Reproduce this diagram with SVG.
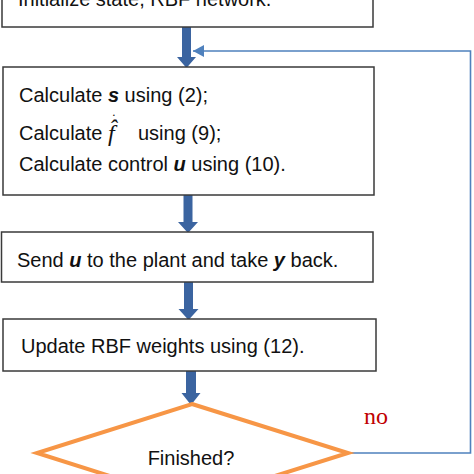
<svg xmlns="http://www.w3.org/2000/svg" width="474" height="474" viewBox="0 0 474 474">
<style>
.box{fill:#fff;stroke:#3a3a3a;stroke-width:1.5}
.t{font-family:"Liberation Sans",Arial,sans-serif;font-size:20px;fill:#111}
.bi{font-weight:bold;font-style:italic}
.thick{fill:#3B64A0}
.fb{fill:none;stroke:#4F81BD;stroke-width:1.6}
</style>
<defs>
<marker id="ah" markerWidth="12" markerHeight="12" refX="11" refY="6" orient="auto" markerUnits="userSpaceOnUse">
<path d="M0,0 L11,6 L0,12 Z" fill="#4F81BD"/>
</marker>
</defs>
<rect width="474" height="474" fill="#fff"/>
<g id="connectors">
<path class="thick" d="M182,27 H191 V57 H196 L186.5,68 L177,57 H182 Z"/>
<path class="thick" d="M183.5,195 H192.5 V222 H198 L188,233 L178,222 H183.5 Z"/>
<path class="thick" d="M184,282 H193 V309 H198.5 L188.5,320 L178.5,309 H184 Z"/>
<path class="thick" d="M186,371 H196 V393 H200.5 L191,405 L181.5,393 H186 Z"/>
<polyline class="fb" points="349,453 470.5,453 470.5,51 193,51" marker-end="url(#ah)"/>
</g>
<g id="init">
<rect class="box" x="2" y="-10" width="371" height="37"/>
<text class="t" x="18" y="6">Initialize state, RBF network.</text>
</g>
<g id="calc">
<rect class="box" x="3" y="67" width="371" height="128"/>
<text class="t" x="19" y="102">Calculate <tspan class="bi">s</tspan> using (2);</text>
<text class="t" x="19" y="140">Calculate</text>
<text x="108" y="141" font-family="'Liberation Serif','Times New Roman',serif" font-style="italic" font-size="24" fill="#111">f&#x302;</text>
<text x="111.5" y="124" font-family="'Liberation Serif','Times New Roman',serif" font-size="14" fill="#111">˙</text>
<text class="t" x="138" y="140">using (9);</text>
<text class="t" x="19" y="171">Calculate control <tspan class="bi">u</tspan> using (10).</text>
</g>
<g id="send">
<rect class="box" x="1.5" y="232" width="371.5" height="50"/>
<text class="t" x="17" y="267">Send <tspan class="bi">u</tspan> to the plant and take <tspan class="bi">y</tspan> back.</text>
</g>
<g id="update">
<rect class="box" x="3" y="319" width="373" height="52"/>
<text class="t" x="21" y="353">Update RBF weights using (12).</text>
</g>
<g id="finished">
<polygon points="192,404 348,453 192,502 37,453" fill="#fff" stroke="#F79646" stroke-width="4" stroke-linejoin="miter"/>
<text class="t" x="191" y="465" text-anchor="middle">Finished?</text>
</g>
<g id="label-no">
<text x="364" y="424" font-family="'Liberation Serif','Times New Roman',serif" font-size="24" fill="#C00000">no</text>
</g>
</svg>
